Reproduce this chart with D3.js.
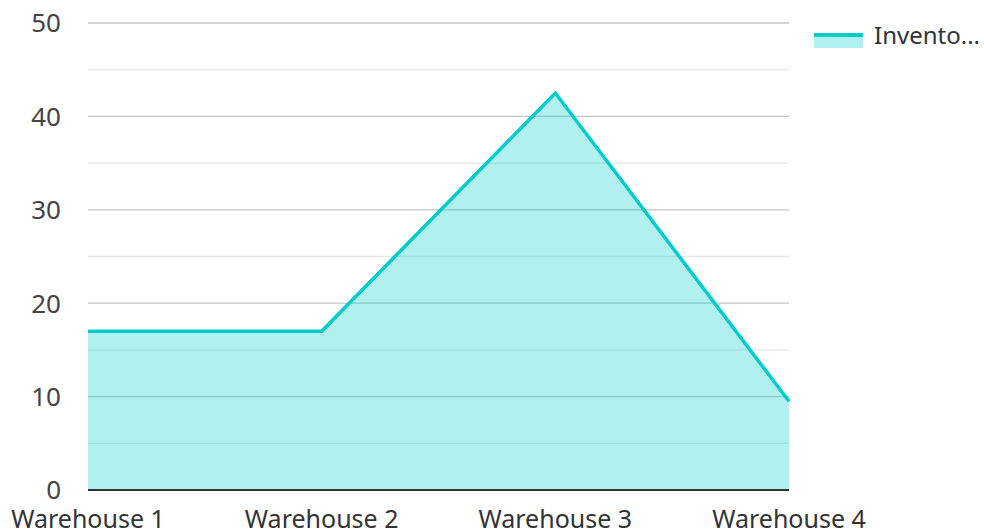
<!DOCTYPE html>
<html>
<head>
<meta charset="utf-8">
<script src="https://cdn.jsdelivr.net/npm/d3@7"></script>
<style>
  body { margin: 0; background: #fff; }
  text { font-family: "Noto Sans", "Open Sans", sans-serif; }
</style>
</head>
<body>
<script>
// chart data
var categories = ["Warehouse 1", "Warehouse 2", "Warehouse 3", "Warehouse 4"];
var inventory = [17, 17, 42.5, 9.5];
var seriesName = "Invento...";
var yTicks = [0, 10, 20, 30, 40, 50];
var yMinorTicks = [5, 15, 25, 35, 45];

const w = 984;
const h = 531;
const plotLeft = 88, plotRight = 789, plotTop = 23, plotBottom = 490;

const xScale = d3.scalePoint()
                 .domain(categories)
                 .range([plotLeft, plotRight])
                 .padding(0);

const yScale = d3.scaleLinear()
                 .domain([0, 50])
                 .range([plotBottom, plotTop]);

const svg = d3.select("body")
              .append("svg")
              .attr("width", w)
              .attr("height", h);

// minor gridlines
svg.append("g")
   .selectAll("line")
   .data(yMinorTicks)
   .enter()
   .append("line")
   .attr("x1", plotLeft)
   .attr("x2", plotRight)
   .attr("y1", d => yScale(d))
   .attr("y2", d => yScale(d))
   .attr("stroke", "#e6e6e6")
   .attr("stroke-width", 1.3);

// major gridlines
svg.append("g")
   .selectAll("line")
   .data(yTicks.filter(d => d > 0))
   .enter()
   .append("line")
   .attr("x1", plotLeft)
   .attr("x2", plotRight)
   .attr("y1", d => yScale(d))
   .attr("y2", d => yScale(d))
   .attr("stroke", "#c4c4c4")
   .attr("stroke-width", 1.3);

// y axis labels
svg.append("g")
   .selectAll("text")
   .data(yTicks)
   .enter()
   .append("text")
   .attr("x", 61)
   .attr("y", d => yScale(d))
   .attr("dy", "0.36em")
   .attr("text-anchor", "end")
   .attr("fill", "#444")
   .style("font-size", "26px")
   .text(d => d);

// area
const area = d3.area()
               .x((d, i) => xScale(categories[i]))
               .y0(yScale(0))
               .y1(d => yScale(d));

svg.append("path")
   .datum(inventory)
   .attr("d", area)
   .attr("fill", "rgba(0,204,204,0.3)");

const line = d3.line()
               .x((d, i) => xScale(categories[i]))
               .y(d => yScale(d));

svg.append("path")
   .datum(inventory)
   .attr("d", line)
   .attr("fill", "none")
   .attr("stroke", "#00cccc")
   .attr("stroke-width", 3.5);

// baseline
svg.append("line")
   .attr("x1", plotLeft)
   .attr("x2", plotRight)
   .attr("y1", yScale(0))
   .attr("y2", yScale(0))
   .attr("stroke", "#333")
   .attr("stroke-width", 2);

// x axis labels
svg.append("g")
   .selectAll("text")
   .data(categories)
   .enter()
   .append("text")
   .attr("x", d => xScale(d))
   .attr("y", 528)
   .attr("text-anchor", "middle")
   .attr("fill", "#333")
   .style("font-size", "25px")
   .text(d => d);

// legend
const legend = svg.append("g").attr("transform", "translate(814,33)");
legend.append("rect")
      .attr("x", 0).attr("y", 0)
      .attr("width", 49).attr("height", 15)
      .attr("fill", "rgba(0,204,204,0.3)");
legend.append("rect")
      .attr("x", 0).attr("y", 0)
      .attr("width", 49).attr("height", 4)
      .attr("fill", "#00cccc");
legend.append("text")
      .attr("x", 60)
      .attr("y", 3)
      .attr("dy", "0.35em")
      .attr("fill", "#333")
      .style("font-size", "24px")
      .text(seriesName);
</script>
</body>
</html>
